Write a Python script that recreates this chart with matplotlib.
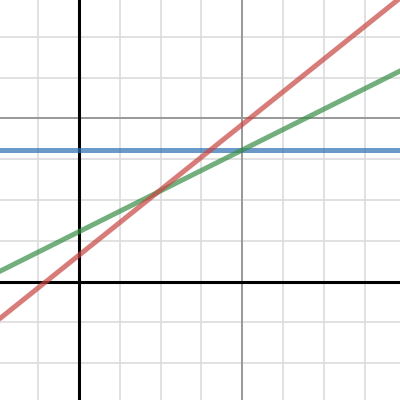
import matplotlib
matplotlib.use('Agg')
import matplotlib.pyplot as plt
import numpy as np

# view window (grid units)
x_range = [-1.94, 7.87]
y_range = [-2.90, 6.90]

# lines, as two end points each
red_x = [-2, 8]
red_y = [-0.95, 7.05]
green_x = [-2, 8]
green_y = [0.225, 5.225]
blue_x = [-2, 8]
blue_y = [3.23, 3.23]

minor_ticks = np.arange(-2, 9, 1)
major_ticks = [-4, 4, 8]

fig = plt.figure(figsize=(4, 4), dpi=100)
ax = fig.add_axes([0, 0, 1, 1])
ax.set_xlim(x_range)
ax.set_ylim(y_range)

# grid
for v in minor_ticks:
    ax.axvline(v, color='#dcdcdc', lw=1.2, zorder=1)
    ax.axhline(v, color='#dcdcdc', lw=1.2, zorder=1)
for v in major_ticks:
    ax.axvline(v, color='#999999', lw=1.4, zorder=2)
    ax.axhline(v, color='#999999', lw=1.4, zorder=2)
ax.axvline(0, color='black', lw=2.2, zorder=3)
ax.axhline(0, color='black', lw=2.2, zorder=3)

# curves
ax.plot(blue_x, blue_y, color='#2d70b3', lw=3.6, alpha=0.7, zorder=4,
        solid_capstyle='butt')
ax.plot(green_x, green_y, color='#388c46', lw=3.6, alpha=0.7, zorder=5,
        solid_capstyle='butt')
ax.plot(red_x, red_y, color='#c74440', lw=3.6, alpha=0.7, zorder=6,
        solid_capstyle='butt')

ax.set_xticks([])
ax.set_yticks([])
for s in ax.spines.values():
    s.set_visible(False)

fig.savefig('out.png', dpi=100)
